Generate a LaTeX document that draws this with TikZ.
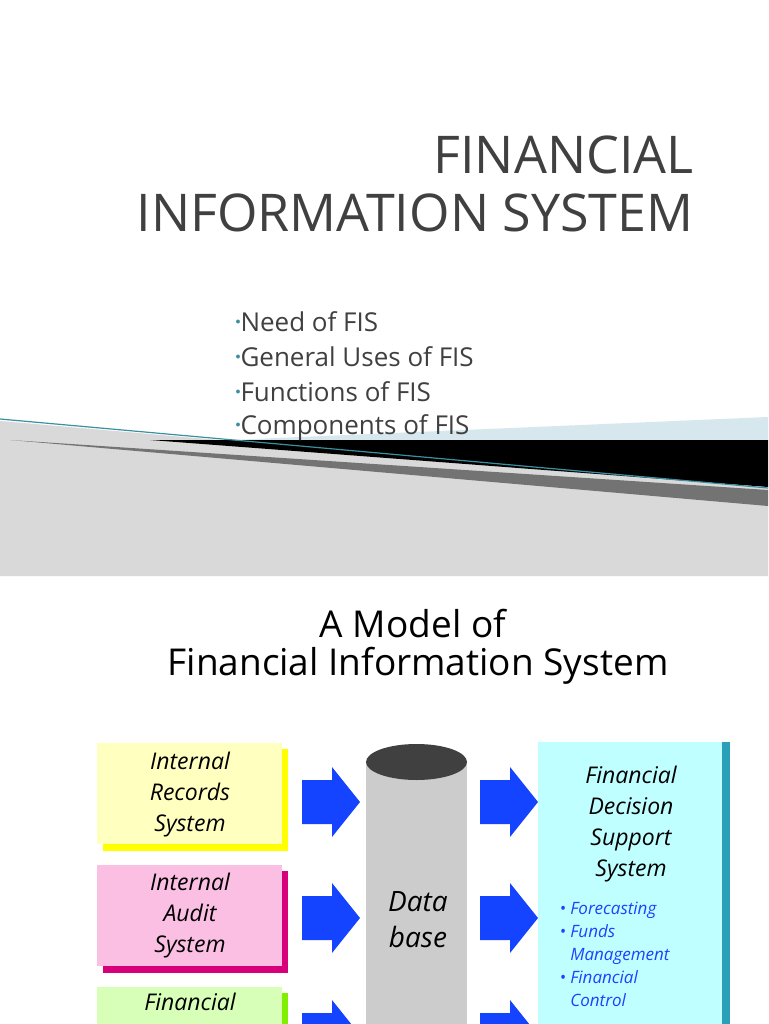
\documentclass[tikz,border=0pt]{standalone}
\usepackage{fontspec}
\setmainfont{Open Sans}
\usetikzlibrary{patterns,shapes.geometric}
\definecolor{tx}{HTML}{404040}
\definecolor{lblue}{HTML}{D6E8EE}
\definecolor{teal}{HTML}{3A8FA0}
\definecolor{hatch}{HTML}{DADADA}
\definecolor{ybox}{HTML}{FFFFC0}
\definecolor{yshad}{HTML}{FFFF00}
\definecolor{pbox}{HTML}{FBBFE3}
\definecolor{pshad}{HTML}{D8007A}
\definecolor{gbox}{HTML}{D8FFB8}
\definecolor{gshad}{HTML}{80F000}
\definecolor{cbox}{HTML}{C0FFFF}
\definecolor{cshad}{HTML}{2AA0B8}
\definecolor{arr}{HTML}{1444FF}
\definecolor{bl}{HTML}{2040FF}
\tikzset{
  boxtxt/.style={font=\fontsize{23}{31}\selectfont\itshape, align=center, text=black},
  bul/.style={anchor=west, font=\fontsize{26}{30}\selectfont, text=tx},
}
\newcommand{\bigarrow}[2]{%
  \fill[arr] (#1,#2-22) -- (#1+30,#2-22) -- (#1+30,#2-35) -- (#1+58,#2) -- (#1+30,#2+35) -- (#1+30,#2+22) -- (#1,#2+22) -- cycle;}
\newcommand{\bdot}{{\color{teal}\raisebox{0.5ex}{\scalebox{0.4}{$\bullet$}}}}
\begin{document}
\begin{tikzpicture}[x=1pt,y=-1pt]
\useasboundingbox (0,0) rectangle (768,1024);
\clip (0,0) rectangle (768,1024);
\fill[white] (0,0) rectangle (768,1024);
% top slide decoration
\fill[hatch] (0,421) -- (768,488) -- (768,576) -- (0,576) -- cycle;
\fill[pattern=north east lines, pattern color=white!70!gray] (0,421) -- (768,488) -- (768,576) -- (0,576) -- cycle;
\fill[lblue] (230,440) -- (768,417) -- (768,440) -- cycle;
\fill[gray!90!black] (10,440) -- (768,490) -- (768,506) -- cycle;
\fill[black] (150,440) -- (768,440) -- (768,487) -- cycle;
\draw[teal, line width=1.2pt] (0,419) -- (768,488);
% title
\node[anchor=east, font=\fontsize{52}{56}\selectfont, text=tx] (t1) at (697,155) {FINANCIAL};
\node[anchor=east, font=\fontsize{52}{56}\selectfont, text=tx] (t2) at (697,213) {INFORMATION SYSTEM};
\node[bul] (b1) at (232,322) {\bdot Need of FIS};
\node[bul] (b2) at (232,357) {\bdot General Uses of FIS};
\node[bul] (b3) at (232,392) {\bdot Functions of FIS};
\node[bul] (b4) at (232,428) {\bdot Components of FIS};
% bottom slide
\node[font=\fontsize{37}{40}\selectfont, text=black] (m1) at (413,624) {A Model of};
\node[font=\fontsize{37}{40}\selectfont, text=black] (m2) at (418,666) {Financial Information System};
% left boxes
\fill[yshad] (103,749) rectangle (288,851);
\fill[ybox] (97,743) rectangle (282,844);
\node[boxtxt] (ir) at (190,795) {Internal\\Records\\System};
\fill[pshad] (103,871) rectangle (288,973);
\fill[pbox] (97,865) rectangle (282,966);
\node[boxtxt] (ia) at (190,916) {Internal\\Audit\\System};
\fill[gshad] (103,993) rectangle (288,1100);
\fill[gbox] (97,987) rectangle (282,1100);
\node[boxtxt, anchor=north] (fi) at (190,989) {Financial};
% cylinder
\fill[gray!40] (366,762) rectangle (467,1100);
\fill[black!75] (416.5,762) ellipse (50.5 and 18);
\node[font=\fontsize{28}{36}\selectfont\itshape, align=center] (db) at (418,920) {Data\\base};
% arrows
\bigarrow{302}{802}
\bigarrow{302}{918}
\bigarrow{302}{1035}
\bigarrow{480}{802}
\bigarrow{480}{918}
\bigarrow{480}{1035}
% right box
\fill[cshad] (540,742) rectangle (730,1100);
\fill[cbox] (538,742) rectangle (722,1100);
\node[boxtxt] (fd) at (631,824) {Financial\\Decision\\Support\\System};
\node[anchor=north west, align=left, text=bl, font=\fontsize{17}{23}\selectfont\itshape] (lst) at (556,898)
  {\textbullet\ Forecasting\\\textbullet\ Funds\\\hphantom{\textbullet\ }Management\\\textbullet\ Financial\\\hphantom{\textbullet\ }Control};
\end{tikzpicture}
\end{document}
